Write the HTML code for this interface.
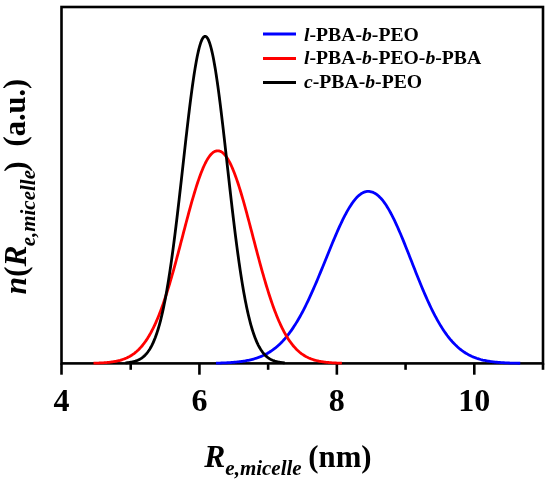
<!DOCTYPE html>
<html><head><meta charset="utf-8"><style>
html,body{margin:0;padding:0;background:#fff;}
body{width:550px;height:481px;overflow:hidden;}
svg{display:block;}
text{font-family:"Liberation Serif","Times New Roman",serif;font-weight:bold;fill:#000;}
</style></head><body>
<svg width="550" height="481" viewBox="0 0 550 481">
<rect x="0" y="0" width="550" height="481" fill="#fff"/>
<g stroke="#000" stroke-width="2.6" fill="none" stroke-linecap="square">
<rect x="61.5" y="7.0" width="481.50" height="356.40"/>
</g>
<g stroke="#000" stroke-width="2.6" stroke-linecap="butt">
<line x1="61.50" y1="363.40" x2="61.50" y2="374.70"/>
<line x1="130.71" y1="363.40" x2="130.71" y2="369.80"/>
<line x1="199.43" y1="363.40" x2="199.43" y2="374.70"/>
<line x1="268.14" y1="363.40" x2="268.14" y2="369.80"/>
<line x1="336.86" y1="363.40" x2="336.86" y2="374.70"/>
<line x1="405.57" y1="363.40" x2="405.57" y2="369.80"/>
<line x1="474.29" y1="363.40" x2="474.29" y2="374.70"/>
<line x1="543.00" y1="363.40" x2="543.00" y2="369.80"/>
</g>
<polyline points="215.99,363.14 217.00,363.11 218.02,363.09 219.03,363.06 220.05,363.03 221.06,363.00 222.07,362.96 223.09,362.92 224.10,362.88 225.12,362.84 226.13,362.79 227.15,362.74 228.16,362.69 229.17,362.63 230.19,362.56 231.20,362.50 232.22,362.42 233.23,362.35 234.24,362.26 235.26,362.17 236.27,362.08 237.29,361.97 238.30,361.86 239.32,361.75 240.33,361.62 241.34,361.49 242.36,361.35 243.37,361.20 244.39,361.03 245.40,360.86 246.42,360.68 247.43,360.49 248.44,360.28 249.46,360.06 250.47,359.83 251.49,359.59 252.50,359.33 253.51,359.05 254.53,358.76 255.54,358.45 256.56,358.13 257.57,357.78 258.59,357.42 259.60,357.04 260.61,356.64 261.63,356.21 262.64,355.77 263.66,355.30 264.67,354.81 265.69,354.29 266.70,353.74 267.71,353.18 268.73,352.58 269.74,351.95 270.76,351.30 271.77,350.61 272.79,349.90 273.80,349.15 274.81,348.37 275.83,347.56 276.84,346.71 277.86,345.83 278.87,344.91 279.88,343.95 280.90,342.96 281.91,341.93 282.93,340.86 283.94,339.75 284.96,338.60 285.97,337.40 286.98,336.17 288.00,334.89 289.01,333.58 290.03,332.21 291.04,330.81 292.06,329.36 293.07,327.87 294.08,326.33 295.10,324.75 296.11,323.13 297.13,321.46 298.14,319.74 299.15,317.99 300.17,316.19 301.18,314.34 302.20,312.46 303.21,310.53 304.23,308.56 305.24,306.55 306.25,304.50 307.27,302.41 308.28,300.28 309.30,298.12 310.31,295.92 311.33,293.69 312.34,291.43 313.35,289.13 314.37,286.81 315.38,284.46 316.40,282.08 317.41,279.68 318.43,277.26 319.44,274.82 320.45,272.36 321.47,269.89 322.48,267.41 323.50,264.91 324.51,262.41 325.52,259.91 326.54,257.41 327.55,254.91 328.57,252.41 329.58,249.92 330.60,247.44 331.61,244.98 332.62,242.53 333.64,240.11 334.65,237.70 335.67,235.33 336.68,232.98 337.70,230.67 338.71,228.40 339.72,226.16 340.74,223.97 341.75,221.83 342.77,219.73 343.78,217.69 344.80,215.71 345.81,213.78 346.82,211.92 347.84,210.12 348.85,208.38 349.87,206.72 350.88,205.14 351.89,203.63 352.91,202.19 353.92,200.84 354.94,199.57 355.95,198.39 356.97,197.29 357.98,196.28 358.99,195.37 360.01,194.54 361.02,193.81 362.04,193.17 363.05,192.63 364.07,192.19 365.08,191.85 366.09,191.60 367.11,191.45 368.12,191.40 369.14,191.44 370.15,191.55 371.16,191.76 372.18,192.05 373.19,192.43 374.21,192.90 375.22,193.46 376.24,194.12 377.25,194.87 378.26,195.71 379.28,196.64 380.29,197.66 381.31,198.77 382.32,199.96 383.34,201.24 384.35,202.61 385.36,204.06 386.38,205.59 387.39,207.20 388.41,208.89 389.42,210.65 390.44,212.48 391.45,214.38 392.46,216.34 393.48,218.37 394.49,220.46 395.51,222.60 396.52,224.80 397.53,227.04 398.55,229.34 399.56,231.68 400.58,234.05 401.59,236.47 402.61,238.91 403.62,241.39 404.63,243.89 405.65,246.42 406.66,248.96 407.68,251.52 408.69,254.09 409.71,256.67 410.72,259.26 411.73,261.85 412.75,264.44 413.76,267.02 414.78,269.60 415.79,272.16 416.80,274.71 417.82,277.25 418.83,279.77 419.85,282.27 420.86,284.74 421.88,287.19 422.89,289.61 423.90,292.00 424.92,294.36 425.93,296.68 426.95,298.97 427.96,301.22 428.98,303.43 429.99,305.60 431.00,307.73 432.02,309.81 433.03,311.85 434.05,313.85 435.06,315.80 436.08,317.70 437.09,319.56 438.10,321.37 439.12,323.13 440.13,324.84 441.15,326.51 442.16,328.13 443.17,329.69 444.19,331.21 445.20,332.69 446.22,334.11 447.23,335.49 448.25,336.82 449.26,338.10 450.27,339.34 451.29,340.53 452.30,341.68 453.32,342.78 454.33,343.85 455.35,344.87 456.36,345.84 457.37,346.78 458.39,347.68 459.40,348.54 460.42,349.36 461.43,350.15 462.44,350.90 463.46,351.61 464.47,352.30 465.49,352.95 466.50,353.57 467.52,354.15 468.53,354.71 469.54,355.24 470.56,355.75 471.57,356.23 472.59,356.68 473.60,357.11 474.62,357.51 475.63,357.89 476.64,358.26 477.66,358.60 478.67,358.92 479.69,359.22 480.70,359.51 481.72,359.77 482.73,360.03 483.74,360.26 484.76,360.48 485.77,360.69 486.79,360.89 487.80,361.07 488.81,361.24 489.83,361.40 490.84,361.55 491.86,361.69 492.87,361.82 493.89,361.94 494.90,362.05 495.91,362.16 496.93,362.26 497.94,362.35 498.96,362.43 499.97,362.51 500.99,362.58 502.00,362.65 503.01,362.71 504.03,362.77 505.04,362.82 506.06,362.87 507.07,362.91 508.08,362.96 509.10,362.99 510.11,363.03 511.13,363.06 512.14,363.09 513.16,363.12 514.17,363.14 515.18,363.17 516.20,363.19 517.21,363.21 518.23,363.23 519.24,363.24 520.26,363.26" fill="none" stroke="#0000ff" stroke-width="2.8" stroke-linejoin="round"/>
<polyline points="93.53,363.19 94.35,363.17 95.18,363.15 96.01,363.12 96.84,363.10 97.67,363.07 98.49,363.04 99.32,363.00 100.15,362.96 100.98,362.92 101.80,362.88 102.63,362.83 103.46,362.78 104.29,362.72 105.12,362.66 105.94,362.60 106.77,362.52 107.60,362.45 108.43,362.37 109.26,362.28 110.08,362.18 110.91,362.08 111.74,361.96 112.57,361.85 113.39,361.72 114.22,361.58 115.05,361.43 115.88,361.27 116.71,361.10 117.53,360.92 118.36,360.73 119.19,360.52 120.02,360.30 120.85,360.06 121.67,359.81 122.50,359.54 123.33,359.25 124.16,358.95 124.99,358.63 125.81,358.28 126.64,357.92 127.47,357.53 128.30,357.12 129.12,356.69 129.95,356.23 130.78,355.74 131.61,355.23 132.44,354.69 133.26,354.11 134.09,353.51 134.92,352.88 135.75,352.21 136.58,351.50 137.40,350.76 138.23,349.99 139.06,349.17 139.89,348.32 140.71,347.42 141.54,346.49 142.37,345.51 143.20,344.48 144.03,343.41 144.85,342.29 145.68,341.13 146.51,339.91 147.34,338.65 148.17,337.33 148.99,335.97 149.82,334.54 150.65,333.07 151.48,331.54 152.30,329.96 153.13,328.31 153.96,326.62 154.79,324.86 155.62,323.05 156.44,321.18 157.27,319.25 158.10,317.26 158.93,315.22 159.76,313.11 160.58,310.95 161.41,308.73 162.24,306.45 163.07,304.12 163.90,301.72 164.72,299.28 165.55,296.78 166.38,294.22 167.21,291.62 168.03,288.96 168.86,286.25 169.69,283.50 170.52,280.70 171.35,277.85 172.17,274.97 173.00,272.04 173.83,269.08 174.66,266.09 175.49,263.06 176.31,260.00 177.14,256.92 177.97,253.81 178.80,250.69 179.62,247.54 180.45,244.39 181.28,241.22 182.11,238.05 182.94,234.88 183.76,231.71 184.59,228.54 185.42,225.39 186.25,222.24 187.08,219.12 187.90,216.02 188.73,212.94 189.56,209.90 190.39,206.88 191.21,203.91 192.04,200.98 192.87,198.10 193.70,195.27 194.53,192.50 195.35,189.78 196.18,187.13 197.01,184.55 197.84,182.04 198.67,179.60 199.49,177.25 200.32,174.97 201.15,172.79 201.98,170.69 202.80,168.68 203.63,166.77 204.46,164.96 205.29,163.25 206.12,161.64 206.94,160.14 207.77,158.75 208.60,157.47 209.43,156.29 210.26,155.23 211.08,154.29 211.91,153.45 212.74,152.73 213.57,152.13 214.40,151.64 215.22,151.27 216.05,151.00 216.88,150.85 217.71,150.80 218.53,150.85 219.36,151.00 220.19,151.27 221.02,151.64 221.85,152.13 222.67,152.73 223.50,153.45 224.33,154.29 225.16,155.23 225.99,156.29 226.81,157.47 227.64,158.75 228.47,160.14 229.30,161.64 230.12,163.25 230.95,164.96 231.78,166.77 232.61,168.68 233.44,170.69 234.26,172.79 235.09,174.97 235.92,177.25 236.75,179.60 237.58,182.04 238.40,184.55 239.23,187.13 240.06,189.78 240.89,192.50 241.71,195.27 242.54,198.10 243.37,200.98 244.20,203.91 245.03,206.88 245.85,209.90 246.68,212.94 247.51,216.02 248.34,219.12 249.17,222.24 249.99,225.39 250.82,228.54 251.65,231.71 252.48,234.88 253.30,238.05 254.13,241.22 254.96,244.39 255.79,247.54 256.62,250.69 257.44,253.81 258.27,256.92 259.10,260.00 259.93,263.06 260.76,266.09 261.58,269.08 262.41,272.04 263.24,274.97 264.07,277.85 264.90,280.70 265.72,283.50 266.55,286.25 267.38,288.96 268.21,291.62 269.03,294.22 269.86,296.78 270.69,299.28 271.52,301.72 272.35,304.12 273.17,306.45 274.00,308.73 274.83,310.95 275.66,313.11 276.49,315.22 277.31,317.26 278.14,319.25 278.97,321.18 279.80,323.05 280.62,324.86 281.45,326.62 282.28,328.31 283.11,329.96 283.94,331.54 284.76,333.07 285.59,334.54 286.42,335.97 287.25,337.33 288.08,338.65 288.90,339.91 289.73,341.13 290.56,342.29 291.39,343.41 292.21,344.48 293.04,345.51 293.87,346.49 294.70,347.42 295.53,348.32 296.35,349.17 297.18,349.99 298.01,350.76 298.84,351.50 299.67,352.21 300.49,352.88 301.32,353.51 302.15,354.11 302.98,354.69 303.81,355.23 304.63,355.74 305.46,356.23 306.29,356.69 307.12,357.12 307.94,357.53 308.77,357.92 309.60,358.28 310.43,358.63 311.26,358.95 312.08,359.25 312.91,359.54 313.74,359.81 314.57,360.06 315.40,360.30 316.22,360.52 317.05,360.73 317.88,360.92 318.71,361.10 319.53,361.27 320.36,361.43 321.19,361.58 322.02,361.72 322.85,361.85 323.67,361.96 324.50,362.08 325.33,362.18 326.16,362.28 326.99,362.37 327.81,362.45 328.64,362.52 329.47,362.60 330.30,362.66 331.12,362.72 331.95,362.78 332.78,362.83 333.61,362.88 334.44,362.92 335.26,362.96 336.09,363.00 336.92,363.04 337.75,363.07 338.58,363.10 339.40,363.12 340.23,363.15 341.06,363.17 341.89,363.19" fill="none" stroke="#ff0000" stroke-width="2.8" stroke-linejoin="round"/>
<polyline points="125.48,362.90 126.01,362.85 126.54,362.80 127.07,362.75 127.60,362.69 128.13,362.63 128.66,362.57 129.20,362.49 129.73,362.42 130.26,362.33 130.79,362.24 131.32,362.15 131.85,362.04 132.38,361.93 132.91,361.81 133.44,361.68 133.97,361.54 134.51,361.39 135.04,361.24 135.57,361.07 136.10,360.88 136.63,360.69 137.16,360.48 137.69,360.26 138.22,360.02 138.75,359.77 139.28,359.50 139.82,359.21 140.35,358.90 140.88,358.58 141.41,358.23 141.94,357.86 142.47,357.47 143.00,357.05 143.53,356.61 144.06,356.15 144.60,355.65 145.13,355.13 145.66,354.57 146.19,353.99 146.72,353.37 147.25,352.72 147.78,352.03 148.31,351.30 148.84,350.54 149.37,349.73 149.91,348.88 150.44,347.99 150.97,347.06 151.50,346.07 152.03,345.04 152.56,343.96 153.09,342.82 153.62,341.63 154.15,340.39 154.68,339.09 155.22,337.73 155.75,336.30 156.28,334.82 156.81,333.28 157.34,331.66 157.87,329.98 158.40,328.24 158.93,326.42 159.46,324.53 159.99,322.57 160.53,320.53 161.06,318.42 161.59,316.23 162.12,313.96 162.65,311.62 163.18,309.19 163.71,306.68 164.24,304.09 164.77,301.42 165.31,298.67 165.84,295.83 166.37,292.91 166.90,289.90 167.43,286.81 167.96,283.64 168.49,280.38 169.02,277.04 169.55,273.61 170.08,270.11 170.62,266.52 171.15,262.85 171.68,259.11 172.21,255.29 172.74,251.39 173.27,247.41 173.80,243.37 174.33,239.26 174.86,235.08 175.39,230.83 175.93,226.53 176.46,222.16 176.99,217.74 177.52,213.27 178.05,208.75 178.58,204.18 179.11,199.58 179.64,194.94 180.17,190.26 180.70,185.56 181.24,180.84 181.77,176.10 182.30,171.35 182.83,166.59 183.36,161.83 183.89,157.07 184.42,152.32 184.95,147.59 185.48,142.88 186.01,138.19 186.55,133.54 187.08,128.93 187.61,124.36 188.14,119.84 188.67,115.38 189.20,110.99 189.73,106.66 190.26,102.41 190.79,98.25 191.33,94.17 191.86,90.18 192.39,86.30 192.92,82.52 193.45,78.86 193.98,75.31 194.51,71.89 195.04,68.60 195.57,65.44 196.10,62.42 196.64,59.55 197.17,56.82 197.70,54.25 198.23,51.84 198.76,49.59 199.29,47.50 199.82,45.59 200.35,43.84 200.88,42.27 201.41,40.88 201.95,39.67 202.48,38.65 203.01,37.80 203.54,37.15 204.07,36.68 204.60,36.39 205.13,36.30 205.66,36.39 206.19,36.68 206.72,37.15 207.26,37.80 207.79,38.65 208.32,39.67 208.85,40.88 209.38,42.27 209.91,43.84 210.44,45.59 210.97,47.50 211.50,49.59 212.04,51.84 212.57,54.25 213.10,56.82 213.63,59.55 214.16,62.42 214.69,65.44 215.22,68.60 215.75,71.89 216.28,75.31 216.81,78.86 217.35,82.52 217.88,86.30 218.41,90.18 218.94,94.17 219.47,98.25 220.00,102.41 220.53,106.66 221.06,110.99 221.59,115.38 222.12,119.84 222.66,124.36 223.19,128.93 223.72,133.54 224.25,138.19 224.78,142.88 225.31,147.59 225.84,152.32 226.37,157.07 226.90,161.83 227.43,166.59 227.97,171.35 228.50,176.10 229.03,180.84 229.56,185.56 230.09,190.26 230.62,194.94 231.15,199.58 231.68,204.18 232.21,208.75 232.75,213.27 233.28,217.74 233.81,222.16 234.34,226.53 234.87,230.83 235.40,235.08 235.93,239.26 236.46,243.37 236.99,247.41 237.52,251.39 238.06,255.29 238.59,259.11 239.12,262.85 239.65,266.52 240.18,270.11 240.71,273.61 241.24,277.04 241.77,280.38 242.30,283.64 242.83,286.81 243.37,289.90 243.90,292.91 244.43,295.83 244.96,298.67 245.49,301.42 246.02,304.09 246.55,306.68 247.08,309.19 247.61,311.62 248.14,313.96 248.68,316.23 249.21,318.42 249.74,320.53 250.27,322.57 250.80,324.53 251.33,326.42 251.86,328.24 252.39,329.98 252.92,331.66 253.46,333.28 253.99,334.82 254.52,336.30 255.05,337.73 255.58,339.09 256.11,340.39 256.64,341.63 257.17,342.82 257.70,343.96 258.23,345.04 258.77,346.07 259.30,347.06 259.83,347.99 260.36,348.88 260.89,349.73 261.42,350.54 261.95,351.30 262.48,352.03 263.01,352.72 263.54,353.37 264.08,353.99 264.61,354.57 265.14,355.13 265.67,355.65 266.20,356.15 266.73,356.61 267.26,357.05 267.79,357.47 268.32,357.86 268.85,358.23 269.39,358.58 269.92,358.90 270.45,359.21 270.98,359.50 271.51,359.77 272.04,360.02 272.57,360.26 273.10,360.48 273.63,360.69 274.16,360.88 274.70,361.07 275.23,361.24 275.76,361.39 276.29,361.54 276.82,361.68 277.35,361.81 277.88,361.93 278.41,362.04 278.94,362.15 279.48,362.24 280.01,362.33 280.54,362.42 281.07,362.49 281.60,362.57 282.13,362.63 282.66,362.69 283.19,362.75 283.72,362.80 284.25,362.85 284.79,362.90" fill="none" stroke="#000000" stroke-width="2.8" stroke-linejoin="round"/>
<g font-size="32">
<text x="61.55" y="411.4" text-anchor="middle">4</text>
<text x="199.43" y="411.4" text-anchor="middle">6</text>
<text x="336.86" y="411.4" text-anchor="middle">8</text>
<text x="474.29" y="411.4" text-anchor="middle">10</text>
</g>
<text x="204.3" y="466.6" font-size="31.5"><tspan font-style="italic">R</tspan><tspan font-size="21" font-style="italic" dy="8">e,micelle</tspan></text>
<text x="308.3" y="466.6" font-size="30.8">(nm)</text>
<text transform="translate(25.5,294.6) rotate(-90)" font-size="31.5"><tspan font-style="italic">n</tspan>(<tspan font-style="italic">R</tspan><tspan font-size="21" font-style="italic" dy="9" dx="-0.8">e,micelle</tspan><tspan dy="-9" dx="-1.8">)</tspan></text>
<text transform="translate(25.3,146.5) rotate(-90)" font-size="30.5">(a.u.)</text>
<g stroke-width="3">
<line x1="263" y1="33.9" x2="296" y2="33.9" stroke="#0000ff"/>
<line x1="263" y1="58.6" x2="296" y2="58.6" stroke="#ff0000"/>
<line x1="263" y1="82.6" x2="296" y2="82.6" stroke="#000"/>
</g>
<g font-size="19.7">
<text x="304" y="40.5"><tspan font-style="italic">l</tspan>-PBA-<tspan font-style="italic">b</tspan>-PEO</text>
<text x="304" y="64.3"><tspan font-style="italic">l</tspan>-PBA-<tspan font-style="italic">b</tspan>-PEO-<tspan font-style="italic">b</tspan>-PBA</text>
<text x="304" y="88.2"><tspan font-style="italic">c</tspan>-PBA-<tspan font-style="italic">b</tspan>-PEO</text>
</g>
</svg>
</body></html>
